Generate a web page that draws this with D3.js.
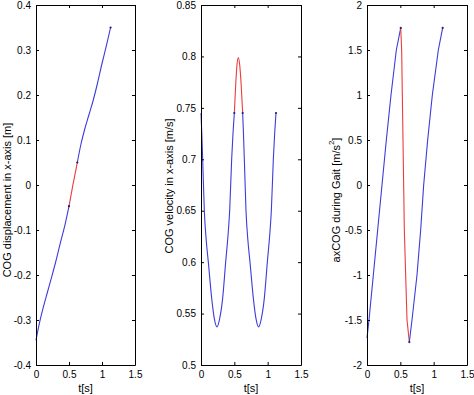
<!DOCTYPE html>
<html><head><meta charset="utf-8">
<script src="https://cdn.jsdelivr.net/npm/d3@7"></script>
<style>body{margin:0;background:#fff}svg{display:block}</style>
</head><body>
<svg id="c" width="474" height="395"></svg>
<script>
const timeTicks = [0, 0.5, 1, 1.5];
const dispTicks = [-0.4, -0.3, -0.2, -0.1, 0, 0.1, 0.2, 0.3, 0.4];
const velTicks = [0.5, 0.55, 0.6, 0.65, 0.7, 0.75, 0.8, 0.85];
const accTicks = [-2, -1.5, -1, -0.5, 0, 0.5, 1, 1.5, 2];

const dispBlue1 = [[0,-0.345],[0.05,-0.308],[0.11,-0.272],[0.17,-0.24],[0.24,-0.203],[0.3,-0.17],[0.37,-0.128],[0.44,-0.088],[0.5,-0.047]];
const dispRed = [[0.5,-0.047],[0.56,0.001],[0.626,0.05]];
const dispBlue2 = [[0.626,0.05],[0.68,0.09],[0.74,0.125],[0.8,0.155],[0.87,0.19],[0.93,0.225],[1.0,0.27],[1.07,0.312],[1.13,0.35]];
const dispDots = [[0.5,-0.047],[0.626,0.05],[1.13,0.35]];

const velBlue1 = [[0,0.745],[0.012,0.725],[0.025,0.70],[0.05,0.65],[0.08,0.62],[0.11,0.60],[0.16,0.565],[0.2,0.545],[0.24,0.537],[0.28,0.545],[0.325,0.565],[0.37,0.60],[0.41,0.63],[0.43,0.65],[0.46,0.70],[0.48,0.725],[0.5,0.745]];
const velRed = [[0.5,0.745],[0.52,0.772],[0.54,0.792],[0.56,0.799],[0.58,0.792],[0.603,0.772],[0.625,0.745]];
const velBlue2 = [[0.625,0.745],[0.637,0.725],[0.65,0.70],[0.675,0.65],[0.705,0.62],[0.735,0.60],[0.785,0.565],[0.825,0.545],[0.865,0.537],[0.905,0.545],[0.95,0.565],[0.995,0.60],[1.035,0.63],[1.055,0.65],[1.085,0.70],[1.105,0.725],[1.125,0.745]];
const velDots = [[0.5,0.745],[0.625,0.745],[1.125,0.745]];

const accBlue1 = [[0,-1.7],[0.03,-1.5],[0.095,-1.0],[0.16,-0.5],[0.225,0],[0.29,0.5],[0.36,1.0],[0.44,1.5],[0.506,1.745]];
const accRed = [[0.506,1.745],[0.52,1.5],[0.53,1.0],[0.54,0.5],[0.55,0],[0.56,-0.5],[0.58,-1.0],[0.6,-1.5],[0.635,-1.745]];
const accBlue2 = [[0.635,-1.745],[0.675,-1.5],[0.75,-1.0],[0.805,-0.5],[0.85,0],[0.91,0.5],[0.98,1.0],[1.07,1.5],[1.135,1.745]];
const accDots = [[0.506,1.745],[0.635,-1.745],[1.135,1.745]];

const BLUE = "#3c3cdc", RED = "#ee3c3c";
const FONT = "Liberation Sans, Arial, sans-serif";
const svg = d3.select("#c");
const plotTop = 5, plotBottom = 365;

const panels = [
  {left:36, right:135, yDomain:[-0.4,0.4], yTicks:dispTicks, label:["COG displacement in x-axis [m]"], labelX:7, labelY:200,
   series:[[dispBlue1,BLUE],[dispRed,RED],[dispBlue2,BLUE]], dots:dispDots, curve:d3.curveMonotoneX},
  {left:201, right:301, yDomain:[0.5,0.85], yTicks:velTicks, label:["COG velocity in x-axis [m/s]"], labelX:169, labelY:186,
   series:[[velBlue1,BLUE],[velRed,RED],[velBlue2,BLUE]], dots:velDots, curve:d3.curveMonotoneX},
  {left:367, right:467, yDomain:[-2,2], yTicks:accTicks, label:["axCOG during Gait [m/s","2","]"], labelX:336, labelY:200,
   series:[[accBlue1,BLUE],[accRed,RED],[accBlue2,BLUE]], dots:accDots, curve:d3.curveLinear}
];

panels.forEach(p => {
  const x = d3.scaleLinear().domain([0,1.5]).range([p.left,p.right]);
  const y = d3.scaleLinear().domain(p.yDomain).range([plotBottom,plotTop]);
  const g = svg.append("g");
  const fmt = v => String(v);

  const line = d3.line().x(d=>x(d[0])).y(d=>y(d[1])).curve(p.curve);
  p.series.forEach(([data,color]) => {
    g.append("path").datum(data).attr("d", line).attr("fill","none")
      .attr("stroke", color).attr("stroke-width", 1.1);
  });
  g.selectAll("circle.dot").data(p.dots).join("circle").attr("class","dot")
    .attr("cx", d=>x(d[0])).attr("cy", d=>y(d[1])).attr("r",1.1).attr("fill","#222266");

  const ax = (axis, tr, fmtOn) => {
    const a = g.append("g").attr("transform", tr).call(axis);
    a.select(".domain").attr("stroke","#000").attr("stroke-width",1);
    a.selectAll(".tick line").attr("stroke","#000");
    a.selectAll("text").attr("font-family",FONT).attr("font-size",10).attr("fill","#000");
    if (!fmtOn) a.selectAll("text").remove();
    return a;
  };
  ax(d3.axisBottom(x).tickValues(timeTicks).tickFormat(fmt).tickSizeInner(-3).tickSizeOuter(0).tickPadding(6), `translate(0,${plotBottom})`, true);
  ax(d3.axisTop(x).tickValues(timeTicks).tickSizeInner(-3).tickSizeOuter(0), `translate(0,${plotTop})`, false);
  ax(d3.axisLeft(y).tickValues(p.yTicks).tickFormat(fmt).tickSizeInner(-3).tickSizeOuter(0).tickPadding(5), `translate(${p.left},0)`, true);
  ax(d3.axisRight(y).tickValues(p.yTicks).tickSizeInner(-3).tickSizeOuter(0), `translate(${p.right},0)`, false);

  g.append("text").attr("x", (p.left+p.right)/2).attr("y", 392)
    .attr("text-anchor","middle").attr("font-family",FONT).attr("font-size",11).text("t[s]");

  const t = g.append("text").attr("transform", `translate(${p.labelX},${p.labelY}) rotate(-90)`)
    .attr("text-anchor","middle").attr("dominant-baseline","central")
    .attr("font-family",FONT).attr("font-size",11);
  t.append("tspan").text(p.label[0]);
  if (p.label.length > 1) {
    t.append("tspan").attr("baseline-shift","super").attr("font-size",8).text(p.label[1]);
    t.append("tspan").text(p.label[2]);
  }
});
</script>
</body></html>
